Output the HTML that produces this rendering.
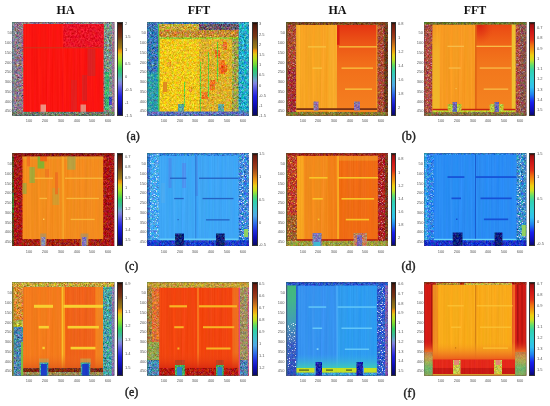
<!DOCTYPE html>
<html><head><meta charset="utf-8"><style>
html,body{margin:0;padding:0;background:#fff;}
body{width:550px;height:406px;position:relative;overflow:hidden;font-family:"Liberation Serif",serif;}
.t{position:absolute;font-weight:bold;font-size:12px;line-height:1;color:#111;white-space:nowrap;}
.l{position:absolute;font-size:12px;line-height:1;color:#222;white-space:nowrap;-webkit-text-stroke:0.4px #222;}
.p{position:absolute;filter:blur(0.3px);}
.cb{position:absolute;box-sizing:border-box;}
.tk{position:absolute;font-family:"Liberation Sans",sans-serif;font-size:8px;line-height:1;color:#5a5a5a;white-space:nowrap;transform:scale(0.5);}
.ty{transform-origin:100% 50%;}
.tx{transform-origin:50% 50%;width:20px;text-align:center;}
.tc{transform-origin:0 50%;}
</style></head><body>
<svg width="0" height="0" style="position:absolute">
<defs>
<filter id="spk" x="0" y="0" width="100%" height="100%" color-interpolation-filters="sRGB">
<feTurbulence type="fractalNoise" baseFrequency="0.85" numOctaves="1" seed="31" result="t"/>
<feColorMatrix in="t" type="matrix" values="0 0 0 0 1  0 0 0 0 1  0 0 0 0 1  0 7 0 0 -4.1" result="w"/>
<feComposite in="w" in2="SourceAlpha" operator="in"/>
</filter>
<filter id="spky" x="0" y="0" width="100%" height="100%" color-interpolation-filters="sRGB">
<feTurbulence type="fractalNoise" baseFrequency="0.85" numOctaves="1" seed="37" result="t"/>
<feColorMatrix in="t" type="matrix" values="0 0 0 0 1  0 0 0 0 0.8  0 0 0 0 0.35  0 7 0 0 -4.0" result="w"/>
<feComposite in="w" in2="SourceAlpha" operator="in"/>
</filter>
<filter id="nz4" x="0" y="0" width="100%" height="100%" color-interpolation-filters="sRGB">
<feTurbulence type="fractalNoise" baseFrequency="0.55" numOctaves="2" seed="17" result="t1"/>
<feColorMatrix in="t1" type="matrix" values="0.5 0.3 0.2 0 0  0.5 0.3 0.2 0 0  0.5 0.3 0.2 0 0  0 0 0 0 1" result="l"/>
<feTurbulence type="fractalNoise" baseFrequency="0.3" numOctaves="2" seed="24" result="t2"/>
<feColorMatrix in="t2" type="matrix" values="1 0 0 0 0  0 1 0 0 0  0 0 1 0 0  0 0 0 0 1" result="c0"/>
<feGaussianBlur in="c0" stdDeviation="0.4" result="c"/>
<feComponentTransfer in="SourceGraphic" result="op"><feFuncA type="linear" slope="0" intercept="1"/></feComponentTransfer>
<feComposite in="op" in2="l" operator="arithmetic" k1="0" k2="1" k3="0.5" k4="-0.25" result="s1"/>
<feComposite in="s1" in2="c" operator="arithmetic" k1="0" k2="1" k3="0.12" k4="-0.06" result="s2"/>
<feComposite in="s2" in2="SourceAlpha" operator="in"/>
</filter>
<filter id="nz" x="0" y="0" width="100%" height="100%" color-interpolation-filters="sRGB">
<feTurbulence type="fractalNoise" baseFrequency="0.9" numOctaves="2" seed="4" result="t1"/>
<feColorMatrix in="t1" type="matrix" values="0.5 0.3 0.2 0 0  0.5 0.3 0.2 0 0  0.5 0.3 0.2 0 0  0 0 0 0 1" result="l"/>
<feTurbulence type="fractalNoise" baseFrequency="0.4" numOctaves="2" seed="11" result="t2"/>
<feColorMatrix in="t2" type="matrix" values="1 0 0 0 0  0 1 0 0 0  0 0 1 0 0  0 0 0 0 1" result="c0"/>
<feGaussianBlur in="c0" stdDeviation="0.4" result="c"/>
<feComponentTransfer in="SourceGraphic" result="op"><feFuncA type="linear" slope="0" intercept="1"/></feComponentTransfer>
<feComposite in="op" in2="l" operator="arithmetic" k1="0" k2="1" k3="0.85" k4="-0.425" result="s1"/>
<feComposite in="s1" in2="c" operator="arithmetic" k1="0" k2="1" k3="0.6" k4="-0.3" result="s2"/>
<feComposite in="s2" in2="SourceAlpha" operator="in"/>
</filter>
<filter id="nz2" x="0" y="0" width="100%" height="100%" color-interpolation-filters="sRGB">
<feTurbulence type="fractalNoise" baseFrequency="0.9" numOctaves="2" seed="9" result="t1"/>
<feColorMatrix in="t1" type="matrix" values="0.5 0.3 0.2 0 0  0.5 0.3 0.2 0 0  0.5 0.3 0.2 0 0  0 0 0 0 1" result="l"/>
<feTurbulence type="fractalNoise" baseFrequency="0.4" numOctaves="2" seed="16" result="t2"/>
<feColorMatrix in="t2" type="matrix" values="1 0 0 0 0  0 1 0 0 0  0 0 1 0 0  0 0 0 0 1" result="c0"/>
<feGaussianBlur in="c0" stdDeviation="0.4" result="c"/>
<feComponentTransfer in="SourceGraphic" result="op"><feFuncA type="linear" slope="0" intercept="1"/></feComponentTransfer>
<feComposite in="op" in2="l" operator="arithmetic" k1="0" k2="1" k3="0.55" k4="-0.275" result="s1"/>
<feComposite in="s1" in2="c" operator="arithmetic" k1="0" k2="1" k3="0.45" k4="-0.225" result="s2"/>
<feComposite in="s2" in2="SourceAlpha" operator="in"/>
</filter>
<filter id="nz3" x="0" y="0" width="100%" height="100%" color-interpolation-filters="sRGB">
<feTurbulence type="fractalNoise" baseFrequency="0.7 0.012" numOctaves="2" seed="13" result="t1"/>
<feColorMatrix in="t1" type="matrix" values="0.5 0.3 0.2 0 0  0.5 0.3 0.2 0 0  0.5 0.3 0.2 0 0  0 0 0 0 1" result="l"/>
<feTurbulence type="fractalNoise" baseFrequency="0.4 0.012" numOctaves="2" seed="20" result="t2"/>
<feColorMatrix in="t2" type="matrix" values="1 0 0 0 0  0 1 0 0 0  0 0 1 0 0  0 0 0 0 1" result="c0"/>
<feGaussianBlur in="c0" stdDeviation="0.4" result="c"/>
<feComponentTransfer in="SourceGraphic" result="op"><feFuncA type="linear" slope="0" intercept="1"/></feComponentTransfer>
<feComposite in="op" in2="l" operator="arithmetic" k1="0" k2="1" k3="0.1" k4="-0.05" result="s1"/>
<feComposite in="s1" in2="c" operator="arithmetic" k1="0" k2="1" k3="0.06" k4="-0.03" result="s2"/>
<feComposite in="s2" in2="SourceAlpha" operator="in"/>
</filter>
<linearGradient id="gb1" x1="0" y1="0" x2="0" y2="1"><stop offset="0" stop-color="#e43412"/><stop offset="0.2" stop-color="#ec5416"/><stop offset="0.45" stop-color="#f26e1a"/><stop offset="1" stop-color="#f48020"/></linearGradient>
<linearGradient id="gb2" x1="0" y1="0" x2="0" y2="1"><stop offset="0" stop-color="#ea4814"/><stop offset="0.22" stop-color="#f06418"/><stop offset="0.45" stop-color="#f2761c"/><stop offset="1" stop-color="#f48420"/></linearGradient>
<linearGradient id="ge1" x1="0" y1="0" x2="0" y2="1"><stop offset="0" stop-color="#f07020" stop-opacity="0"/><stop offset="1" stop-color="#e05818" stop-opacity="0.8"/></linearGradient>
<linearGradient id="ge2" x1="0" y1="0" x2="0" y2="1"><stop offset="0" stop-color="#f04c12" stop-opacity="0"/><stop offset="1" stop-color="#d82a10" stop-opacity="0.9"/></linearGradient>
<linearGradient id="gfl" x1="0" y1="0" x2="0" y2="1"><stop offset="0" stop-color="#30d070"/><stop offset="0.2" stop-color="#30c890"/><stop offset="0.42" stop-color="#30a8c8"/><stop offset="0.6" stop-color="#3070d0"/><stop offset="0.85" stop-color="#2a48c0"/><stop offset="1" stop-color="#1a20a0"/></linearGradient>
<linearGradient id="gf1" x1="0" y1="0" x2="0" y2="1"><stop offset="0" stop-color="#3ab0e8" stop-opacity="0"/><stop offset="1" stop-color="#40d0b0" stop-opacity="0.9"/></linearGradient>
<linearGradient id="gfs" x1="0" y1="0" x2="0" y2="1"><stop offset="0" stop-color="#d41a16" stop-opacity="0"/><stop offset="0.3" stop-color="#e86020"/><stop offset="0.5" stop-color="#e8b030"/><stop offset="0.62" stop-color="#b0c840"/><stop offset="0.8" stop-color="#60d060"/><stop offset="1" stop-color="#90c040"/></linearGradient>
<linearGradient id="gys" x1="0" y1="0" x2="0" y2="1"><stop offset="0" stop-color="#f2b02a" stop-opacity="0"/><stop offset="0.3" stop-color="#f2b02a" stop-opacity="0.9"/><stop offset="1" stop-color="#f0b82a"/></linearGradient>
<radialGradient id="grp" cx="0.2" cy="0" r="0.9"><stop offset="0" stop-color="#d82010" stop-opacity="0.95"/><stop offset="0.5" stop-color="#e03414" stop-opacity="0.6"/><stop offset="1" stop-color="#e84a14" stop-opacity="0"/></radialGradient>
<linearGradient id="gf" x1="0" y1="0" x2="0" y2="1"><stop offset="0" stop-color="#f8a41c" stop-opacity="0"/><stop offset="0.6" stop-color="#f08020" stop-opacity="0.8"/><stop offset="1" stop-color="#ea5a1c"/></linearGradient>
</defs></svg>

<div class="t" style="left:56.6px;top:3.5px">HA</div>
<div class="t" style="left:187.7px;top:3.5px">FFT</div>
<div class="t" style="left:328.5px;top:3.5px">HA</div>
<div class="t" style="left:463.7px;top:3.5px">FFT</div>
<div class="l" style="left:126.5px;top:130px">(a)</div>
<div class="l" style="left:401.8px;top:130.2px">(b)</div>
<div class="l" style="left:125px;top:260px">(c)</div>
<div class="l" style="left:401.6px;top:260px">(d)</div>
<div class="l" style="left:125px;top:386px">(e)</div>
<div class="l" style="left:403.5px;top:386.5px">(f)</div>
<svg class="p" style="left:12.4px;top:22px" width="102.3" height="93.8" viewBox="0 0 102.3 93.8"><rect x="0" y="0" width="102.3" height="93.8" fill="#8c7888" filter="url(#nz)"/><rect x="0" y="0" width="2.5" height="93.8" fill="#7c8898" filter="url(#nz2)"/><rect x="91.5" y="0" width="8.5" height="93.8" fill="#78948a" filter="url(#nz)"/><rect x="100" y="0" width="2.3" height="93.8" fill="#a07898" filter="url(#nz2)"/><rect x="93" y="50" width="4" height="38" fill="#40b070" filter="url(#nz2)"/><rect x="97" y="75" width="3" height="8" fill="#4050c0" filter="url(#nz2)"/><rect x="11.3" y="2" width="80.2" height="88" fill="#fb1410" filter="url(#nz3)"/><rect x="51.3" y="2" width="40.2" height="24" fill="#e81426" filter="url(#nz4)"/><rect x="11.3" y="25.4" width="80.2" height="0.8" fill="#c04020" /><rect x="75.5" y="27" width="8" height="27" fill="#dc2020" filter="url(#nz3)"/><rect x="70" y="53" width="5" height="26" fill="#de2020" filter="url(#nz3)"/><rect x="59" y="58" width="6" height="30" fill="#e61e1e" filter="url(#nz3)"/><rect x="28.5" y="82.5" width="5.5" height="7.5" fill="#f09080" filter="url(#nz3)"/><rect x="68.5" y="82.5" width="5.5" height="7.5" fill="#e88878" filter="url(#nz3)"/><rect x="0" y="89.8" width="102.3" height="4" fill="#6e7c6a" filter="url(#nz)"/><rect x="0.25" y="0.25" width="101.8" height="93.3" fill="none" stroke="#444" stroke-width="0.5" opacity="0.6"/></svg>
<div class="cb" style="left:117.4px;top:22px;width:5.7px;height:93.8px;background:linear-gradient(to bottom,#1a0a04 0%,#4a1a0c 2%,#6a2412 8%,#7a3812 15%,#806018 20%,#a07c14 27%,#f09010 30%,#e0c818 34%,#b0e020 39%,#70d838 45%,#30d060 50%,#40b8a0 57%,#70a0d0 62%,#8080e0 66%,#5050e0 72%,#2020e0 80%,#1010c0 88%,#0a0a90 94%,#0a0a60 100%);border:0.5px solid #333"></div>
<div class="tk ty" style="right:538.6px;top:29.27px">50</div>
<div class="tk ty" style="right:538.6px;top:39.04px">100</div>
<div class="tk ty" style="right:538.6px;top:48.81px">150</div>
<div class="tk ty" style="right:538.6px;top:58.58px">200</div>
<div class="tk ty" style="right:538.6px;top:68.35px">250</div>
<div class="tk ty" style="right:538.6px;top:78.12px">300</div>
<div class="tk ty" style="right:538.6px;top:87.9px">350</div>
<div class="tk ty" style="right:538.6px;top:97.67px">400</div>
<div class="tk ty" style="right:538.6px;top:107.44px">450</div>
<div class="tk tx" style="left:19.4px;top:117.4px">100</div>
<div class="tk tx" style="left:35.1px;top:117.4px">200</div>
<div class="tk tx" style="left:50.8px;top:117.4px">300</div>
<div class="tk tx" style="left:66.5px;top:117.4px">400</div>
<div class="tk tx" style="left:82.2px;top:117.4px">500</div>
<div class="tk tx" style="left:97.9px;top:117.4px">600</div>
<div class="tk tc" style="left:124.6px;top:19.9px">2</div>
<div class="tk tc" style="left:124.6px;top:33.1px">1.5</div>
<div class="tk tc" style="left:124.6px;top:46.3px">1</div>
<div class="tk tc" style="left:124.6px;top:59.5px">0.5</div>
<div class="tk tc" style="left:124.6px;top:72.7px">0</div>
<div class="tk tc" style="left:124.6px;top:85.9px">-0.5</div>
<div class="tk tc" style="left:124.6px;top:99.1px">-1</div>
<div class="tk tc" style="left:124.6px;top:112.3px">-1.5</div>
<svg class="p" style="left:147px;top:22px" width="102.3" height="93.8" viewBox="0 0 102.3 93.8"><rect x="0" y="0" width="102.3" height="93.8" fill="#3a78b4" filter="url(#nz)"/><rect x="0" y="50" width="12" height="40" fill="#309aa8" filter="url(#nz2)"/><rect x="91.5" y="0" width="10.8" height="93.8" fill="#28aac6" filter="url(#nz)"/><rect x="85" y="2" width="6.5" height="88" fill="#a0a048" filter="url(#nz)"/><rect x="11.3" y="2" width="1.3" height="88" fill="#40d840" /><rect x="12.4" y="2" width="72.6" height="88" fill="#eec81c" filter="url(#nz2)"/><rect x="52" y="17" width="33" height="73" fill="#dcb02a" filter="url(#nz2)"/><rect x="16" y="60" width="4" height="10" fill="#e08820" filter="url(#nz3)"/><rect x="12.4" y="2" width="40" height="6" fill="#c8a838" filter="url(#nz)"/><rect x="52" y="2" width="39.5" height="6" fill="#6a5868" filter="url(#nz)"/><rect x="12.4" y="8" width="79" height="7.5" fill="#c48a34" filter="url(#nz)"/><rect x="12.4" y="15.5" width="79" height="1.3" fill="#60cc40" filter="url(#nz)" opacity="0.8"/><rect x="55" y="70" width="6" height="7" fill="#f07020" filter="url(#nz2)" opacity="0.75"/><rect x="63" y="58" width="5" height="10" fill="#f06020" filter="url(#nz2)" opacity="0.75"/><rect x="72" y="38" width="6" height="14" fill="#f06818" filter="url(#nz2)" opacity="0.75"/><rect x="74" y="43" width="6" height="7" fill="#f05018" filter="url(#nz2)" opacity="0.75"/><rect x="42" y="64" width="3" height="6" fill="#f09020" filter="url(#nz2)" opacity="0.75"/><rect x="76" y="20" width="4" height="8" fill="#f05828" filter="url(#nz2)" opacity="0.75"/><rect x="68" y="28" width="5" height="8" fill="#e86020" filter="url(#nz2)" opacity="0.75"/><rect x="20" y="40" width="4" height="5" fill="#e89828" filter="url(#nz2)" opacity="0.75"/><rect x="53" y="40" width="0.9" height="50" fill="#58d040" filter="url(#nz2)"/><rect x="61" y="30" width="0.9" height="45" fill="#58d040" filter="url(#nz2)"/><rect x="70" y="20" width="0.9" height="40" fill="#58d040" filter="url(#nz2)"/><rect x="37" y="60" width="0.9" height="25" fill="#58d040" filter="url(#nz2)"/><rect x="31" y="82" width="6" height="8" fill="#60a898" filter="url(#nz2)"/><rect x="71" y="82" width="6" height="8" fill="#60a898" filter="url(#nz2)"/><rect x="0" y="89.5" width="102.3" height="4.3" fill="#5a70b8" filter="url(#nz)"/><rect x="0.25" y="0.25" width="101.8" height="93.3" fill="none" stroke="#444" stroke-width="0.5" opacity="0.6"/></svg>
<div class="cb" style="left:252px;top:22px;width:5.7px;height:93.8px;background:linear-gradient(to bottom,#1a0a04 0%,#4a1a0c 2%,#6a2412 8%,#7a3812 15%,#806018 20%,#a07c14 27%,#f09010 30%,#e0c818 34%,#b0e020 39%,#70d838 45%,#30d060 50%,#40b8a0 57%,#70a0d0 62%,#8080e0 66%,#5050e0 72%,#2020e0 80%,#1010c0 88%,#0a0a90 94%,#0a0a60 100%);border:0.5px solid #333"></div>
<div class="tk ty" style="right:404px;top:29.27px">50</div>
<div class="tk ty" style="right:404px;top:39.04px">100</div>
<div class="tk ty" style="right:404px;top:48.81px">150</div>
<div class="tk ty" style="right:404px;top:58.58px">200</div>
<div class="tk ty" style="right:404px;top:68.35px">250</div>
<div class="tk ty" style="right:404px;top:78.12px">300</div>
<div class="tk ty" style="right:404px;top:87.9px">350</div>
<div class="tk ty" style="right:404px;top:97.67px">400</div>
<div class="tk ty" style="right:404px;top:107.44px">450</div>
<div class="tk tx" style="left:154px;top:117.4px">100</div>
<div class="tk tx" style="left:169.7px;top:117.4px">200</div>
<div class="tk tx" style="left:185.4px;top:117.4px">300</div>
<div class="tk tx" style="left:201.1px;top:117.4px">400</div>
<div class="tk tx" style="left:216.8px;top:117.4px">500</div>
<div class="tk tx" style="left:232.5px;top:117.4px">600</div>
<div class="tk tc" style="left:259.2px;top:20.3px">3</div>
<div class="tk tc" style="left:259.2px;top:30.5px">2.5</div>
<div class="tk tc" style="left:259.2px;top:40.7px">2</div>
<div class="tk tc" style="left:259.2px;top:50.9px">1.5</div>
<div class="tk tc" style="left:259.2px;top:61.1px">1</div>
<div class="tk tc" style="left:259.2px;top:71.3px">0.5</div>
<div class="tk tc" style="left:259.2px;top:81.5px">0</div>
<div class="tk tc" style="left:259.2px;top:91.7px">-0.5</div>
<div class="tk tc" style="left:259.2px;top:101.9px">-1</div>
<div class="tk tc" style="left:259.2px;top:112.1px">-1.5</div>
<svg class="p" style="left:285.5px;top:22px" width="102.3" height="93.8" viewBox="0 0 102.3 93.8"><rect x="0" y="0" width="102.3" height="93.8" fill="#a84830" filter="url(#nz2)"/><rect x="0" y="45" width="10.3" height="45" fill="#a03030" filter="url(#nz2)"/><rect x="0" y="0" width="1.5" height="93.8" fill="#6a5a28" /><rect x="98.3" y="0" width="4" height="93.8" fill="#6a3a1c" filter="url(#nz2)"/><rect x="1.5" y="0" width="8.8" height="93.8" fill="#fff" filter="url(#spk)" opacity="0.3"/><rect x="91" y="0" width="7.3" height="93.8" fill="#fff" filter="url(#spk)" opacity="0.3"/><rect x="10.3" y="2.8" width="80.7" height="87" fill="#f7a323" filter="url(#nz3)"/><rect x="10.3" y="2.8" width="4" height="87" fill="#f8b02c" filter="url(#nz3)"/><rect x="42.5" y="2.8" width="8.5" height="87" fill="#f8aa2a" filter="url(#nz3)"/><rect x="51" y="2.8" width="40" height="87" fill="url(#gb1)" /><rect x="51" y="2.8" width="2.5" height="20" fill="#d82010" filter="url(#nz3)"/><rect x="90.5" y="2.8" width="0.8" height="87" fill="#f0b030" /><rect x="0" y="0" width="102.3" height="2.8" fill="#7a4a20" filter="url(#nz2)"/><rect x="22" y="24.2" width="18" height="1.3" fill="#f8c440" /><rect x="53" y="24.2" width="38" height="1.3" fill="#f8c440" /><rect x="26.5" y="45.5" width="9.5" height="1.3" fill="#f8c440" /><rect x="55.5" y="45.5" width="31.5" height="1.3" fill="#f8c440" /><rect x="59" y="66.5" width="27" height="1.3" fill="#f8c440" /><rect x="10.3" y="86.2" width="80.7" height="1.8" fill="#7a3214" /><rect x="27.5" y="79.5" width="5" height="9" fill="#8a70a8" filter="url(#nz2)"/><rect x="68" y="79.5" width="6" height="9" fill="#8a70a8" filter="url(#nz2)"/><rect x="0" y="90" width="102.3" height="3.8" fill="#84782e" filter="url(#nz2)"/><rect x="0.25" y="0.25" width="101.8" height="93.3" fill="none" stroke="#444" stroke-width="0.5" opacity="0.6"/></svg>
<div class="cb" style="left:390.5px;top:22px;width:5.7px;height:93.8px;background:linear-gradient(to bottom,#201008 0%,#6a1c10 2%,#8a2814 9%,#a04018 16%,#c06818 22%,#e08c14 27%,#f0a810 31%,#e8d018 35%,#c0e020 40%,#60dc60 46%,#30d0a8 52%,#40c0d0 60%,#50a8e8 68%,#3070e8 76%,#2030e0 84%,#1010b8 92%,#0a0a68 100%);border:0.5px solid #333"></div>
<div class="tk ty" style="right:265.5px;top:29.27px">50</div>
<div class="tk ty" style="right:265.5px;top:39.04px">100</div>
<div class="tk ty" style="right:265.5px;top:48.81px">150</div>
<div class="tk ty" style="right:265.5px;top:58.58px">200</div>
<div class="tk ty" style="right:265.5px;top:68.35px">250</div>
<div class="tk ty" style="right:265.5px;top:78.12px">300</div>
<div class="tk ty" style="right:265.5px;top:87.9px">350</div>
<div class="tk ty" style="right:265.5px;top:97.67px">400</div>
<div class="tk ty" style="right:265.5px;top:107.44px">450</div>
<div class="tk tx" style="left:292.5px;top:117.4px">100</div>
<div class="tk tx" style="left:308.2px;top:117.4px">200</div>
<div class="tk tx" style="left:323.9px;top:117.4px">300</div>
<div class="tk tx" style="left:339.6px;top:117.4px">400</div>
<div class="tk tx" style="left:355.3px;top:117.4px">500</div>
<div class="tk tx" style="left:371px;top:117.4px">600</div>
<div class="tk tc" style="left:397.7px;top:20.3px">0.8</div>
<div class="tk tc" style="left:397.7px;top:34.2px">1</div>
<div class="tk tc" style="left:397.7px;top:48.1px">1.2</div>
<div class="tk tc" style="left:397.7px;top:62px">1.4</div>
<div class="tk tc" style="left:397.7px;top:75.9px">1.6</div>
<div class="tk tc" style="left:397.7px;top:89.8px">1.8</div>
<div class="tk tc" style="left:397.7px;top:103.7px">2</div>
<svg class="p" style="left:424.3px;top:22px" width="102.3" height="93.8" viewBox="0 0 102.3 93.8"><rect x="0" y="0" width="102.3" height="93.8" fill="#a84a40" filter="url(#nz2)"/><rect x="96" y="0" width="6.3" height="93.8" fill="#8a5048" filter="url(#nz2)"/><rect x="0" y="0" width="8.5" height="93.8" fill="#fff" filter="url(#spk)" opacity="0.35"/><rect x="91.2" y="0" width="11.1" height="93.8" fill="#fff" filter="url(#spk)" opacity="0.35"/><rect x="8.5" y="2.5" width="82.7" height="87" fill="#f79a22" filter="url(#nz3)"/><rect x="8.5" y="2.5" width="7.2" height="87" fill="url(#gys)" /><rect x="51.1" y="2.5" width="36.7" height="87" fill="url(#gb2)" /><rect x="51.1" y="2.5" width="1.6" height="87" fill="#e06414" /><rect x="52.7" y="2.5" width="16" height="22" fill="url(#grp)" /><rect x="87.8" y="2.5" width="3.8" height="87" fill="#eec030" filter="url(#nz3)"/><rect x="0" y="0" width="102.3" height="2.5" fill="#6a7a2a" filter="url(#nz2)"/><rect x="23.5" y="23.7" width="16.5" height="1.3" fill="#f8bc48" /><rect x="52.4" y="23.7" width="35.4" height="1.3" fill="#f8bc48" /><rect x="24.7" y="45.4" width="12" height="1.3" fill="#f8bc48" /><rect x="55.7" y="45.4" width="31.3" height="1.3" fill="#f8bc48" /><rect x="59.7" y="66.5" width="24.5" height="1.3" fill="#f8bc48" /><rect x="31.5" y="66" width="1.2" height="1.2" fill="#f8c050" /><rect x="8.5" y="86.8" width="83" height="1.7" fill="#c42410" /><rect x="8.5" y="88.5" width="83" height="2" fill="#b8d030" filter="url(#nz2)"/><rect x="23.7" y="82" width="13.8" height="7" fill="#b8c838" filter="url(#nz2)"/><rect x="65.7" y="82" width="13.8" height="7" fill="#b8c838" filter="url(#nz2)"/><rect x="28.5" y="80" width="4.5" height="10" fill="#6c68b0" filter="url(#nz2)"/><rect x="70.5" y="80" width="4.5" height="10" fill="#6c68b0" filter="url(#nz2)"/><rect x="0" y="90.5" width="102.3" height="3.3" fill="#807040" filter="url(#nz2)"/><rect x="0.25" y="0.25" width="101.8" height="93.3" fill="none" stroke="#444" stroke-width="0.5" opacity="0.6"/></svg>
<div class="cb" style="left:529.3px;top:22px;width:5.7px;height:93.8px;background:linear-gradient(to bottom,#2a1008 0%,#a01010 2%,#d01818 10%,#e03018 18%,#f07010 24%,#f0a010 30%,#f0d010 35%,#d0e020 40%,#60e070 46%,#30d0b0 52%,#30d0d0 60%,#30c0f0 70%,#2080f0 78%,#1820f0 86%,#1010c0 94%,#0a0a70 100%);border:0.5px solid #333"></div>
<div class="tk ty" style="right:126.7px;top:29.27px">50</div>
<div class="tk ty" style="right:126.7px;top:39.04px">100</div>
<div class="tk ty" style="right:126.7px;top:48.81px">150</div>
<div class="tk ty" style="right:126.7px;top:58.58px">200</div>
<div class="tk ty" style="right:126.7px;top:68.35px">250</div>
<div class="tk ty" style="right:126.7px;top:78.12px">300</div>
<div class="tk ty" style="right:126.7px;top:87.9px">350</div>
<div class="tk ty" style="right:126.7px;top:97.67px">400</div>
<div class="tk ty" style="right:126.7px;top:107.44px">450</div>
<div class="tk tx" style="left:431.3px;top:117.4px">100</div>
<div class="tk tx" style="left:447px;top:117.4px">200</div>
<div class="tk tx" style="left:462.7px;top:117.4px">300</div>
<div class="tk tx" style="left:478.4px;top:117.4px">400</div>
<div class="tk tx" style="left:494.1px;top:117.4px">500</div>
<div class="tk tx" style="left:509.8px;top:117.4px">600</div>
<div class="tk tc" style="left:536.5px;top:24.1px">0.7</div>
<div class="tk tc" style="left:536.5px;top:34.35px">0.8</div>
<div class="tk tc" style="left:536.5px;top:44.6px">0.9</div>
<div class="tk tc" style="left:536.5px;top:54.85px">1</div>
<div class="tk tc" style="left:536.5px;top:65.1px">1.1</div>
<div class="tk tc" style="left:536.5px;top:75.35px">1.2</div>
<div class="tk tc" style="left:536.5px;top:85.6px">1.3</div>
<div class="tk tc" style="left:536.5px;top:95.85px">1.4</div>
<div class="tk tc" style="left:536.5px;top:106.1px">1.5</div>
<svg class="p" style="left:12.4px;top:152.7px" width="102.3" height="93.8" viewBox="0 0 102.3 93.8"><rect x="0" y="0" width="102.3" height="93.8" fill="#a81818" filter="url(#nz2)"/><rect x="0" y="0" width="2" height="93.8" fill="#5a4a18" filter="url(#nz2)"/><rect x="0" y="40" width="2" height="20" fill="#3a7a28" filter="url(#nz2)"/><rect x="10.5" y="3.3" width="80.7" height="83" fill="#f38c1e" filter="url(#nz3)"/><rect x="10.5" y="3.3" width="80.7" height="3" fill="#e8982a" filter="url(#nz3)"/><rect x="49.5" y="3.3" width="2.4" height="83" fill="#f4961f" filter="url(#nz3)"/><rect x="50.6" y="3.3" width="1" height="83" fill="#f8b030" /><rect x="25.6" y="0.5" width="6.7" height="15" fill="#88b030" filter="url(#nz3)"/><rect x="17.4" y="14" width="5.4" height="16" fill="#a8a838" filter="url(#nz3)"/><rect x="10.6" y="30" width="4" height="11" fill="#b0a038" filter="url(#nz3)"/><rect x="40.4" y="35" width="6.8" height="17" fill="#d49a30" filter="url(#nz3)"/><rect x="55.3" y="3" width="8.2" height="13.7" fill="#b8a040" filter="url(#nz3)"/><rect x="28.2" y="0.3" width="6.8" height="8" fill="#f06818" filter="url(#nz3)"/><rect x="43.1" y="19.3" width="2.8" height="22" fill="#f07020" filter="url(#nz3)"/><rect x="15" y="3.3" width="3" height="10" fill="#f07020" filter="url(#nz3)"/><rect x="33" y="16" width="4" height="10" fill="#f07a20" filter="url(#nz3)"/><rect x="22.6" y="24.6" width="18.4" height="1.3" fill="#f8b83a" /><rect x="53" y="24.6" width="37.7" height="1.3" fill="#f8b83a" /><rect x="27.4" y="44.8" width="7.6" height="1.3" fill="#f8b83a" /><rect x="54.4" y="44.8" width="32.6" height="1.3" fill="#f8b83a" /><rect x="58.6" y="65.8" width="24" height="1.3" fill="#f8b83a" /><rect x="31" y="65.6" width="1.4" height="1.4" fill="#f8d060" /><rect x="10.5" y="86.3" width="80.7" height="7.5" fill="#a02414" filter="url(#nz2)"/><rect x="28.3" y="80.5" width="6" height="12" fill="#c09050" filter="url(#nz3)"/><rect x="29.3" y="84" width="4" height="9" fill="#8a8ab8" filter="url(#nz2)"/><rect x="68.7" y="80.5" width="7.6" height="12" fill="#c09050" filter="url(#nz3)"/><rect x="70" y="84" width="4.5" height="9" fill="#8078c0" filter="url(#nz2)"/><rect x="0" y="0" width="102.3" height="3.3" fill="#8e1a14" filter="url(#nz2)"/><rect x="0.25" y="0.25" width="101.8" height="93.3" fill="none" stroke="#444" stroke-width="0.5" opacity="0.6"/></svg>
<div class="cb" style="left:117.4px;top:152.7px;width:5.7px;height:93.8px;background:linear-gradient(to bottom,#1a0a04 0%,#4a1a0c 2%,#6a2412 8%,#7a3812 15%,#806018 20%,#a07c14 27%,#f09010 30%,#e0c818 34%,#b0e020 39%,#70d838 45%,#30d060 50%,#40b8a0 57%,#70a0d0 62%,#8080e0 66%,#5050e0 72%,#2020e0 80%,#1010c0 88%,#0a0a90 94%,#0a0a60 100%);border:0.5px solid #333"></div>
<div class="tk ty" style="right:538.6px;top:159.97px">50</div>
<div class="tk ty" style="right:538.6px;top:169.74px">100</div>
<div class="tk ty" style="right:538.6px;top:179.51px">150</div>
<div class="tk ty" style="right:538.6px;top:189.28px">200</div>
<div class="tk ty" style="right:538.6px;top:199.05px">250</div>
<div class="tk ty" style="right:538.6px;top:208.82px">300</div>
<div class="tk ty" style="right:538.6px;top:218.6px">350</div>
<div class="tk ty" style="right:538.6px;top:228.37px">400</div>
<div class="tk ty" style="right:538.6px;top:238.14px">450</div>
<div class="tk tx" style="left:19.4px;top:248.1px">100</div>
<div class="tk tx" style="left:35.1px;top:248.1px">200</div>
<div class="tk tx" style="left:50.8px;top:248.1px">300</div>
<div class="tk tx" style="left:66.5px;top:248.1px">400</div>
<div class="tk tx" style="left:82.2px;top:248.1px">500</div>
<div class="tk tx" style="left:97.9px;top:248.1px">600</div>
<div class="tk tc" style="left:124.6px;top:152.8px">0.7</div>
<div class="tk tc" style="left:124.6px;top:163.2px">0.8</div>
<div class="tk tc" style="left:124.6px;top:173.6px">0.9</div>
<div class="tk tc" style="left:124.6px;top:184px">1</div>
<div class="tk tc" style="left:124.6px;top:194.4px">1.1</div>
<div class="tk tc" style="left:124.6px;top:204.8px">1.2</div>
<div class="tk tc" style="left:124.6px;top:215.2px">1.3</div>
<div class="tk tc" style="left:124.6px;top:225.6px">1.4</div>
<div class="tk tc" style="left:124.6px;top:236px">1.5</div>
<svg class="p" style="left:147px;top:152.7px" width="102.3" height="93.8" viewBox="0 0 102.3 93.8"><rect x="0" y="0" width="102.3" height="93.8" fill="#42a4ec" filter="url(#nz2)"/><rect x="0" y="0" width="3" height="93.8" fill="#3478cc" filter="url(#nz2)"/><rect x="91.4" y="0" width="10.9" height="93.8" fill="#3a84d8" filter="url(#nz)"/><rect x="3" y="0" width="9.3" height="87" fill="#fff" filter="url(#spk)" opacity="0.7"/><rect x="91.4" y="0" width="10.9" height="87" fill="#fff" filter="url(#spk)" opacity="0.8"/><rect x="12.3" y="2.8" width="79.1" height="84" fill="#3ea6f6" filter="url(#nz3)"/><rect x="21.5" y="5" width="3" height="30" fill="#4a90ee" filter="url(#nz3)"/><rect x="35" y="10" width="4" height="25" fill="#4a92ee" filter="url(#nz3)"/><rect x="48" y="3" width="3" height="40" fill="#4290ea" filter="url(#nz3)"/><rect x="14" y="30" width="4" height="20" fill="#48a8f0" filter="url(#nz3)"/><rect x="12.3" y="0" width="79.1" height="2.8" fill="#3488dc" filter="url(#nz2)"/><rect x="48.4" y="2.8" width="0.8" height="84" fill="#2a78d4" /><rect x="23" y="24.6" width="16.4" height="1.3" fill="#2462c4" /><rect x="52" y="24.6" width="39.4" height="1.3" fill="#2462c4" /><rect x="27.2" y="44.9" width="9.5" height="1.3" fill="#2462c4" /><rect x="55.5" y="44.9" width="31" height="1.3" fill="#2462c4" /><rect x="59" y="66.2" width="23.6" height="1.3" fill="#2462c4" /><rect x="30.5" y="66" width="1.2" height="1.2" fill="#2462c4" /><rect x="0" y="87.2" width="102.3" height="6.6" fill="#1c3ec8" filter="url(#nz2)"/><rect x="12.3" y="85.5" width="79.1" height="1.7" fill="#64ccf8" /><rect x="28" y="80.5" width="9" height="13.3" fill="#102476" filter="url(#nz2)"/><rect x="69" y="80.5" width="8.7" height="13.3" fill="#102476" filter="url(#nz2)"/><rect x="97" y="76" width="4" height="8" fill="#90d060" filter="url(#nz3)"/><rect x="0.25" y="0.25" width="101.8" height="93.3" fill="none" stroke="#444" stroke-width="0.5" opacity="0.6"/></svg>
<div class="cb" style="left:252px;top:152.7px;width:5.7px;height:93.8px;background:linear-gradient(to bottom,#201008 0%,#6a1c10 2%,#8a2814 9%,#a04018 16%,#c06818 22%,#e08c14 27%,#f0a810 31%,#e8d018 35%,#c0e020 40%,#60dc60 46%,#30d0a8 52%,#40c0d0 60%,#50a8e8 68%,#3070e8 76%,#2030e0 84%,#1010b8 92%,#0a0a68 100%);border:0.5px solid #333"></div>
<div class="tk ty" style="right:404px;top:159.97px">50</div>
<div class="tk ty" style="right:404px;top:169.74px">100</div>
<div class="tk ty" style="right:404px;top:179.51px">150</div>
<div class="tk ty" style="right:404px;top:189.28px">200</div>
<div class="tk ty" style="right:404px;top:199.05px">250</div>
<div class="tk ty" style="right:404px;top:208.82px">300</div>
<div class="tk ty" style="right:404px;top:218.6px">350</div>
<div class="tk ty" style="right:404px;top:228.37px">400</div>
<div class="tk ty" style="right:404px;top:238.14px">450</div>
<div class="tk tx" style="left:154px;top:248.1px">100</div>
<div class="tk tx" style="left:169.7px;top:248.1px">200</div>
<div class="tk tx" style="left:185.4px;top:248.1px">300</div>
<div class="tk tx" style="left:201.1px;top:248.1px">400</div>
<div class="tk tx" style="left:216.8px;top:248.1px">500</div>
<div class="tk tx" style="left:232.5px;top:248.1px">600</div>
<div class="tk tc" style="left:259.2px;top:150.3px">1.5</div>
<div class="tk tc" style="left:259.2px;top:173.05px">1</div>
<div class="tk tc" style="left:259.2px;top:195.8px">0.5</div>
<div class="tk tc" style="left:259.2px;top:218.55px">0</div>
<div class="tk tc" style="left:259.2px;top:241.3px">-0.5</div>
<svg class="p" style="left:285.5px;top:152.7px" width="102.3" height="93.8" viewBox="0 0 102.3 93.8"><rect x="0" y="0" width="102.3" height="93.8" fill="#b83a28" filter="url(#nz2)"/><rect x="0" y="0" width="1.4" height="93.8" fill="#5a6a28" /><rect x="99" y="0" width="3.3" height="93.8" fill="#7a3a1c" filter="url(#nz2)"/><rect x="91.5" y="0" width="7.5" height="93.8" fill="#a82020" filter="url(#nz2)"/><rect x="1.4" y="62" width="9.6" height="26" fill="#9a5a2c" filter="url(#nz2)"/><rect x="1.4" y="0" width="9.6" height="93.8" fill="#fff" filter="url(#spky)" opacity="0.7"/><rect x="91.5" y="0" width="7.5" height="93.8" fill="#fff" filter="url(#spk)" opacity="0.5"/><rect x="11" y="2.7" width="80.5" height="84" fill="#f28a1c" filter="url(#nz3)"/><rect x="11" y="2.7" width="6.8" height="84" fill="#f7a420" filter="url(#nz3)"/><rect x="42" y="2.7" width="9.5" height="84" fill="#f28018" filter="url(#nz3)"/><rect x="52.8" y="2.7" width="38.7" height="84" fill="#f06c14" filter="url(#nz3)"/><rect x="52.8" y="2.7" width="38.7" height="5" fill="#f08820" filter="url(#nz3)"/><rect x="51.3" y="2.7" width="1.5" height="84" fill="#f8b424" /><rect x="0" y="0" width="102.3" height="2.7" fill="#a02a1c" filter="url(#nz2)"/><rect x="23.2" y="24" width="18.3" height="1.6" fill="#f8c628" /><rect x="52.2" y="24" width="40" height="1.6" fill="#f8c628" /><rect x="26.5" y="45" width="10.3" height="1.6" fill="#f8c628" /><rect x="55.5" y="45" width="32.6" height="1.6" fill="#f8c628" /><rect x="59.8" y="65.8" width="23.3" height="1.6" fill="#f8c628" /><rect x="31.8" y="65.6" width="1.6" height="1.6" fill="#f8c628" /><rect x="11" y="86.2" width="80.5" height="1.6" fill="#b42010" /><rect x="0" y="87.8" width="102.3" height="6" fill="#9a9a3c" filter="url(#nz2)"/><rect x="26.5" y="80" width="9" height="13.8" fill="#7a78b8" filter="url(#nz2)"/><rect x="27.5" y="89" width="7" height="4.8" fill="#40b8d0" filter="url(#nz3)"/><rect x="67.5" y="80" width="13.5" height="13.8" fill="#c08060" filter="url(#nz2)"/><rect x="71" y="82" width="5" height="11.8" fill="#7a68b0" filter="url(#nz2)"/><rect x="0.25" y="0.25" width="101.8" height="93.3" fill="none" stroke="#444" stroke-width="0.5" opacity="0.6"/></svg>
<div class="cb" style="left:390.5px;top:152.7px;width:5.7px;height:93.8px;background:linear-gradient(to bottom,#2a1008 0%,#a01010 2%,#d01818 10%,#e03018 18%,#f07010 24%,#f0a010 30%,#f0d010 35%,#d0e020 40%,#60e070 46%,#30d0b0 52%,#30d0d0 60%,#30c0f0 70%,#2080f0 78%,#1820f0 86%,#1010c0 94%,#0a0a70 100%);border:0.5px solid #333"></div>
<div class="tk ty" style="right:265.5px;top:159.97px">50</div>
<div class="tk ty" style="right:265.5px;top:169.74px">100</div>
<div class="tk ty" style="right:265.5px;top:179.51px">150</div>
<div class="tk ty" style="right:265.5px;top:189.28px">200</div>
<div class="tk ty" style="right:265.5px;top:199.05px">250</div>
<div class="tk ty" style="right:265.5px;top:208.82px">300</div>
<div class="tk ty" style="right:265.5px;top:218.6px">350</div>
<div class="tk ty" style="right:265.5px;top:228.37px">400</div>
<div class="tk ty" style="right:265.5px;top:238.14px">450</div>
<div class="tk tx" style="left:292.5px;top:248.1px">100</div>
<div class="tk tx" style="left:308.2px;top:248.1px">200</div>
<div class="tk tx" style="left:323.9px;top:248.1px">300</div>
<div class="tk tx" style="left:339.6px;top:248.1px">400</div>
<div class="tk tx" style="left:355.3px;top:248.1px">500</div>
<div class="tk tx" style="left:371px;top:248.1px">600</div>
<div class="tk tc" style="left:397.7px;top:155.4px">0.8</div>
<div class="tk tc" style="left:397.7px;top:168.55px">1</div>
<div class="tk tc" style="left:397.7px;top:181.7px">1.2</div>
<div class="tk tc" style="left:397.7px;top:194.85px">1.4</div>
<div class="tk tc" style="left:397.7px;top:208px">1.6</div>
<div class="tk tc" style="left:397.7px;top:221.15px">1.8</div>
<div class="tk tc" style="left:397.7px;top:234.3px">2</div>
<svg class="p" style="left:424.3px;top:152.7px" width="102.3" height="93.8" viewBox="0 0 102.3 93.8"><rect x="0" y="0" width="102.3" height="93.8" fill="#2c84e6" filter="url(#nz2)"/><rect x="0" y="0" width="3" height="93.8" fill="#34a4e8" filter="url(#nz2)"/><rect x="92.4" y="0" width="9.9" height="93.8" fill="#3688c8" filter="url(#nz)"/><rect x="0" y="0" width="9.9" height="87" fill="#fff" filter="url(#spk)" opacity="0.4"/><rect x="92.4" y="0" width="9.9" height="93.8" fill="#fff" filter="url(#spk)" opacity="0.8"/><rect x="9.9" y="2" width="82.5" height="84" fill="#2a8cf4" filter="url(#nz3)"/><rect x="51" y="2" width="1" height="84" fill="#1a5cd0" /><rect x="23.5" y="23.2" width="16.9" height="1.7" fill="#1650d6" /><rect x="51.7" y="23.2" width="40.7" height="1.7" fill="#1650d6" /><rect x="27.5" y="44.5" width="9.5" height="1.7" fill="#1650d6" /><rect x="56.5" y="44.5" width="31.2" height="1.7" fill="#1650d6" /><rect x="59.9" y="65.5" width="24.3" height="1.7" fill="#1650d6" /><rect x="32" y="65.5" width="1.5" height="1.5" fill="#1650d6" /><rect x="0" y="87.2" width="102.3" height="6.6" fill="#1a34c6" filter="url(#nz2)"/><rect x="9.9" y="85.8" width="82.5" height="1.4" fill="#66d4f8" /><rect x="28.7" y="79.5" width="9.8" height="14.3" fill="#0e1e7a" filter="url(#nz2)"/><rect x="70.6" y="79.5" width="7.8" height="14.3" fill="#0e1e7a" filter="url(#nz2)"/><rect x="97.7" y="72" width="4.6" height="11" fill="#90d060" filter="url(#nz3)"/><rect x="0.25" y="0.25" width="101.8" height="93.3" fill="none" stroke="#444" stroke-width="0.5" opacity="0.6"/></svg>
<div class="cb" style="left:529.3px;top:152.7px;width:5.7px;height:93.8px;background:linear-gradient(to bottom,#2a1008 0%,#a01010 2%,#d01818 10%,#e03018 18%,#f07010 24%,#f0a010 30%,#f0d010 35%,#d0e020 40%,#60e070 46%,#30d0b0 52%,#30d0d0 60%,#30c0f0 70%,#2080f0 78%,#1820f0 86%,#1010c0 94%,#0a0a70 100%);border:0.5px solid #333"></div>
<div class="tk ty" style="right:126.7px;top:159.97px">50</div>
<div class="tk ty" style="right:126.7px;top:169.74px">100</div>
<div class="tk ty" style="right:126.7px;top:179.51px">150</div>
<div class="tk ty" style="right:126.7px;top:189.28px">200</div>
<div class="tk ty" style="right:126.7px;top:199.05px">250</div>
<div class="tk ty" style="right:126.7px;top:208.82px">300</div>
<div class="tk ty" style="right:126.7px;top:218.6px">350</div>
<div class="tk ty" style="right:126.7px;top:228.37px">400</div>
<div class="tk ty" style="right:126.7px;top:238.14px">450</div>
<div class="tk tx" style="left:431.3px;top:248.1px">100</div>
<div class="tk tx" style="left:447px;top:248.1px">200</div>
<div class="tk tx" style="left:462.7px;top:248.1px">300</div>
<div class="tk tx" style="left:478.4px;top:248.1px">400</div>
<div class="tk tx" style="left:494.1px;top:248.1px">500</div>
<div class="tk tx" style="left:509.8px;top:248.1px">600</div>
<div class="tk tc" style="left:536.5px;top:150.3px">1.5</div>
<div class="tk tc" style="left:536.5px;top:172.8px">1</div>
<div class="tk tc" style="left:536.5px;top:195.3px">0.5</div>
<div class="tk tc" style="left:536.5px;top:217.8px">0</div>
<div class="tk tc" style="left:536.5px;top:240.3px">-0.5</div>
<svg class="p" style="left:12.4px;top:282px" width="102.3" height="93.8" viewBox="0 0 102.3 93.8"><rect x="0" y="0" width="102.3" height="93.8" fill="#4c84a8" filter="url(#nz)"/><rect x="0" y="0" width="11.1" height="38" fill="#d48c34" filter="url(#nz)"/><rect x="0" y="38" width="11.1" height="7" fill="#aab040" filter="url(#nz)"/><rect x="9.1" y="60" width="2" height="34" fill="#80c040" filter="url(#nz3)"/><rect x="0" y="0" width="1.6" height="93.8" fill="#8a8a30" /><rect x="91" y="0" width="8.8" height="93.8" fill="#4aa0a0" filter="url(#nz)"/><rect x="99.8" y="0" width="2.5" height="93.8" fill="#8a7ab0" filter="url(#nz2)"/><rect x="11.1" y="4.8" width="79.9" height="81.4" fill="#f47a1c" filter="url(#nz3)"/><rect x="52.9" y="4.8" width="30.6" height="81.4" fill="#f0621a" filter="url(#nz3)"/><rect x="83.5" y="4.8" width="7.5" height="81.4" fill="#f28420" filter="url(#nz3)"/><rect x="49.1" y="4.8" width="3.8" height="81.4" fill="#f69a1c" filter="url(#nz3)"/><rect x="50" y="4.8" width="1" height="81.4" fill="#f8c030" /><rect x="11.1" y="72" width="79.9" height="14.2" fill="url(#ge1)" /><rect x="0" y="0" width="102.3" height="4.8" fill="#c4a83a" filter="url(#nz)"/><rect x="22" y="22.8" width="19" height="3" fill="#f8d030" /><rect x="51.6" y="22.8" width="39.4" height="3" fill="#f8d030" /><rect x="26.7" y="43.9" width="10.2" height="2.6" fill="#f8d030" /><rect x="55.6" y="43.9" width="31.3" height="2.6" fill="#f8d030" /><rect x="58.6" y="64.8" width="24.9" height="2.6" fill="#f8d030" /><rect x="30.4" y="64.8" width="2.4" height="2.4" fill="#f8d030" /><rect x="11.1" y="86.2" width="79.9" height="3.8" fill="#7c2a12" filter="url(#nz2)"/><rect x="11.1" y="90" width="79.9" height="3.8" fill="#9a8a50" filter="url(#nz2)"/><rect x="27" y="76.5" width="9.8" height="6" fill="#d09040" filter="url(#nz3)"/><rect x="68.2" y="76.5" width="10.6" height="6" fill="#d09040" filter="url(#nz3)"/><rect x="27.5" y="80.5" width="8.8" height="13.3" fill="#40a0a0" filter="url(#nz2)"/><rect x="68.7" y="80.5" width="9.6" height="13.3" fill="#40a0a0" filter="url(#nz2)"/><rect x="29" y="82" width="5.8" height="11.8" fill="#1c3cc8" filter="url(#nz3)"/><rect x="70.2" y="82" width="6.6" height="11.8" fill="#1c3cc8" filter="url(#nz3)"/><rect x="0.25" y="0.25" width="101.8" height="93.3" fill="none" stroke="#444" stroke-width="0.5" opacity="0.6"/></svg>
<div class="cb" style="left:117.4px;top:282px;width:5.7px;height:93.8px;background:linear-gradient(to bottom,#1a0a04 0%,#4a1a0c 2%,#6a2412 8%,#7a3812 15%,#806018 20%,#a07c14 27%,#f09010 30%,#e0c818 34%,#b0e020 39%,#70d838 45%,#30d060 50%,#40b8a0 57%,#70a0d0 62%,#8080e0 66%,#5050e0 72%,#2020e0 80%,#1010c0 88%,#0a0a90 94%,#0a0a60 100%);border:0.5px solid #333"></div>
<div class="tk ty" style="right:538.6px;top:289.27px">50</div>
<div class="tk ty" style="right:538.6px;top:299.04px">100</div>
<div class="tk ty" style="right:538.6px;top:308.81px">150</div>
<div class="tk ty" style="right:538.6px;top:318.58px">200</div>
<div class="tk ty" style="right:538.6px;top:328.35px">250</div>
<div class="tk ty" style="right:538.6px;top:338.12px">300</div>
<div class="tk ty" style="right:538.6px;top:347.9px">350</div>
<div class="tk ty" style="right:538.6px;top:357.67px">400</div>
<div class="tk ty" style="right:538.6px;top:367.44px">450</div>
<div class="tk tx" style="left:19.4px;top:377.4px">100</div>
<div class="tk tx" style="left:35.1px;top:377.4px">200</div>
<div class="tk tx" style="left:50.8px;top:377.4px">300</div>
<div class="tk tx" style="left:66.5px;top:377.4px">400</div>
<div class="tk tx" style="left:82.2px;top:377.4px">500</div>
<div class="tk tx" style="left:97.9px;top:377.4px">600</div>
<div class="tk tc" style="left:124.6px;top:280.3px">0.9</div>
<div class="tk tc" style="left:124.6px;top:294.2px">1</div>
<div class="tk tc" style="left:124.6px;top:308.1px">1.1</div>
<div class="tk tc" style="left:124.6px;top:322px">1.2</div>
<div class="tk tc" style="left:124.6px;top:335.9px">1.3</div>
<div class="tk tc" style="left:124.6px;top:349.8px">1.4</div>
<div class="tk tc" style="left:124.6px;top:363.7px">1.5</div>
<svg class="p" style="left:147px;top:282px" width="102.3" height="93.8" viewBox="0 0 102.3 93.8"><rect x="0" y="0" width="102.3" height="93.8" fill="#a09060" filter="url(#nz2)"/><rect x="0" y="0" width="5" height="93.8" fill="#a08040" filter="url(#nz2)"/><rect x="5" y="0" width="7.3" height="93.8" fill="#dc7434" filter="url(#nz2)"/><rect x="0" y="60" width="12.3" height="18" fill="#90a050" filter="url(#nz2)"/><rect x="0" y="78" width="12.3" height="15.8" fill="#4888b0" filter="url(#nz)"/><rect x="91.4" y="0" width="1.6" height="93.8" fill="#e04880" /><rect x="100.8" y="0" width="1.5" height="93.8" fill="#d86090" filter="url(#nz2)"/><rect x="93" y="78" width="7.8" height="15.8" fill="#5080b0" filter="url(#nz)"/><rect x="12.3" y="5.5" width="79.1" height="80.5" fill="#f2440f" filter="url(#nz3)"/><rect x="85.3" y="5.5" width="6.1" height="80.5" fill="#f06c1c" filter="url(#nz3)"/><rect x="50.4" y="5.5" width="1.2" height="80.5" fill="#f89426" /><rect x="12.3" y="70" width="79.1" height="16" fill="url(#ge2)" /><rect x="0" y="0" width="102.3" height="5.5" fill="#c0a038" filter="url(#nz2)"/><rect x="22.4" y="23.2" width="17.6" height="2.2" fill="#f8b424" /><rect x="52" y="23.2" width="38" height="2.2" fill="#f8b424" /><rect x="27.2" y="44.2" width="9.5" height="2" fill="#f8b424" /><rect x="56" y="44.2" width="31.3" height="2" fill="#f8b424" /><rect x="59.2" y="65.5" width="24.3" height="2" fill="#f8b424" /><rect x="30.4" y="65.5" width="2" height="2" fill="#f8b424" /><rect x="12.3" y="86" width="79.1" height="7.8" fill="#b01c10" filter="url(#nz2)"/><rect x="28" y="78" width="9.8" height="5" fill="#c04020" filter="url(#nz3)"/><rect x="69" y="78" width="7.7" height="5" fill="#c04020" filter="url(#nz3)"/><rect x="28" y="83" width="9.8" height="10.8" fill="#40b060" filter="url(#nz2)"/><rect x="69" y="83" width="7.7" height="10.8" fill="#40b060" filter="url(#nz2)"/><rect x="30" y="85" width="5" height="8.8" fill="#3080d0" filter="url(#nz3)"/><rect x="70.5" y="85" width="4.7" height="8.8" fill="#3080d0" filter="url(#nz3)"/><rect x="0.25" y="0.25" width="101.8" height="93.3" fill="none" stroke="#444" stroke-width="0.5" opacity="0.6"/></svg>
<div class="cb" style="left:252px;top:282px;width:5.7px;height:93.8px;background:linear-gradient(to bottom,#201008 0%,#6a1c10 2%,#8a2814 9%,#a04018 16%,#c06818 22%,#e08c14 27%,#f0a810 31%,#e8d018 35%,#c0e020 40%,#60dc60 46%,#30d0a8 52%,#40c0d0 60%,#50a8e8 68%,#3070e8 76%,#2030e0 84%,#1010b8 92%,#0a0a68 100%);border:0.5px solid #333"></div>
<div class="tk ty" style="right:404px;top:289.27px">50</div>
<div class="tk ty" style="right:404px;top:299.04px">100</div>
<div class="tk ty" style="right:404px;top:308.81px">150</div>
<div class="tk ty" style="right:404px;top:318.58px">200</div>
<div class="tk ty" style="right:404px;top:328.35px">250</div>
<div class="tk ty" style="right:404px;top:338.12px">300</div>
<div class="tk ty" style="right:404px;top:347.9px">350</div>
<div class="tk ty" style="right:404px;top:357.67px">400</div>
<div class="tk ty" style="right:404px;top:367.44px">450</div>
<div class="tk tx" style="left:154px;top:377.4px">100</div>
<div class="tk tx" style="left:169.7px;top:377.4px">200</div>
<div class="tk tx" style="left:185.4px;top:377.4px">300</div>
<div class="tk tx" style="left:201.1px;top:377.4px">400</div>
<div class="tk tx" style="left:216.8px;top:377.4px">500</div>
<div class="tk tx" style="left:232.5px;top:377.4px">600</div>
<div class="tk tc" style="left:259.2px;top:280.3px">0.5</div>
<div class="tk tc" style="left:259.2px;top:292.3px">0.6</div>
<div class="tk tc" style="left:259.2px;top:304.3px">0.7</div>
<div class="tk tc" style="left:259.2px;top:316.3px">0.8</div>
<div class="tk tc" style="left:259.2px;top:328.3px">0.9</div>
<div class="tk tc" style="left:259.2px;top:340.3px">1</div>
<div class="tk tc" style="left:259.2px;top:352.3px">1.1</div>
<div class="tk tc" style="left:259.2px;top:364.3px">1.2</div>
<svg class="p" style="left:285.5px;top:282px" width="102.3" height="93.8" viewBox="0 0 102.3 93.8"><rect x="0" y="0" width="102.3" height="93.8" fill="#2c58c8" filter="url(#nz2)"/><rect x="0" y="0" width="10.4" height="93.8" fill="url(#gfl)" /><rect x="0" y="0" width="10.4" height="93.8" fill="#808080" filter="url(#nz3)" opacity="0.25"/><rect x="0" y="60" width="10.4" height="34" fill="#3058c8" filter="url(#nz2)" opacity="0.6"/><rect x="0" y="0" width="1.3" height="93.8" fill="#406a90" /><rect x="99" y="0" width="3.3" height="93.8" fill="#7a62b0" filter="url(#nz2)"/><rect x="1.3" y="40" width="9.1" height="45" fill="#fff" filter="url(#spk)" opacity="0.85"/><rect x="90.8" y="0" width="8.2" height="93.8" fill="#fff" filter="url(#spk)" opacity="0.85"/><rect x="10.4" y="3.4" width="80.4" height="83" fill="#3692f0" filter="url(#nz3)"/><rect x="51.5" y="3.4" width="39.3" height="83" fill="#2e9cf0" filter="url(#nz3)"/><rect x="10.4" y="3.4" width="1.1" height="83" fill="#1c4cc8" /><rect x="50.6" y="3.4" width="0.9" height="83" fill="#58b8f8" /><rect x="10.4" y="72" width="80.4" height="14.4" fill="url(#gf1)" /><rect x="0" y="0" width="102.3" height="3.4" fill="#2a58c8" filter="url(#nz2)"/><rect x="22.5" y="24.3" width="17.7" height="1.5" fill="#62c6f8" /><rect x="51.5" y="24.3" width="38.6" height="1.5" fill="#62c6f8" /><rect x="26.5" y="45.5" width="9.6" height="1.5" fill="#62c6f8" /><rect x="55.5" y="45.5" width="30.6" height="1.5" fill="#62c6f8" /><rect x="58.8" y="66.5" width="24.3" height="1.5" fill="#62c6f8" /><rect x="30.7" y="66.2" width="1.8" height="1.8" fill="#7ad0f8" /><rect x="10.4" y="86" width="80.4" height="4.8" fill="#c4e024" filter="url(#nz3)"/><rect x="13" y="87.5" width="10" height="1.2" fill="#4a5a20" /><rect x="40" y="87.5" width="7" height="1.2" fill="#4a5a20" /><rect x="60" y="87.5" width="6" height="1.2" fill="#4a5a20" /><rect x="10.4" y="90.8" width="80.4" height="3" fill="#38a0d8" filter="url(#nz2)"/><rect x="29.5" y="80" width="6.5" height="13.8" fill="#1a24a8" filter="url(#nz2)"/><rect x="70.5" y="80" width="6.5" height="13.8" fill="#1a24a8" filter="url(#nz2)"/><rect x="28.5" y="84" width="1.2" height="8" fill="#50a0e0" /><rect x="76.8" y="84" width="1.2" height="8" fill="#50a0e0" /><rect x="0.25" y="0.25" width="101.8" height="93.3" fill="none" stroke="#444" stroke-width="0.5" opacity="0.6"/></svg>
<div class="cb" style="left:390.5px;top:282px;width:5.7px;height:93.8px;background:linear-gradient(to bottom,#1a0a04 0%,#4a1a0c 2%,#6a2412 8%,#7a3812 15%,#806018 20%,#a07c14 27%,#f09010 30%,#e0c818 34%,#b0e020 39%,#70d838 45%,#30d060 50%,#40b8a0 57%,#70a0d0 62%,#8080e0 66%,#5050e0 72%,#2020e0 80%,#1010c0 88%,#0a0a90 94%,#0a0a60 100%);border:0.5px solid #333"></div>
<div class="tk ty" style="right:265.5px;top:289.27px">50</div>
<div class="tk ty" style="right:265.5px;top:299.04px">100</div>
<div class="tk ty" style="right:265.5px;top:308.81px">150</div>
<div class="tk ty" style="right:265.5px;top:318.58px">200</div>
<div class="tk ty" style="right:265.5px;top:328.35px">250</div>
<div class="tk ty" style="right:265.5px;top:338.12px">300</div>
<div class="tk ty" style="right:265.5px;top:347.9px">350</div>
<div class="tk ty" style="right:265.5px;top:357.67px">400</div>
<div class="tk ty" style="right:265.5px;top:367.44px">450</div>
<div class="tk tx" style="left:292.5px;top:377.4px">100</div>
<div class="tk tx" style="left:308.2px;top:377.4px">200</div>
<div class="tk tx" style="left:323.9px;top:377.4px">300</div>
<div class="tk tx" style="left:339.6px;top:377.4px">400</div>
<div class="tk tx" style="left:355.3px;top:377.4px">500</div>
<div class="tk tx" style="left:371px;top:377.4px">600</div>
<div class="tk tc" style="left:397.7px;top:280.3px">0.6</div>
<div class="tk tc" style="left:397.7px;top:289.9px">0.7</div>
<div class="tk tc" style="left:397.7px;top:299.5px">0.8</div>
<div class="tk tc" style="left:397.7px;top:309.1px">0.9</div>
<div class="tk tc" style="left:397.7px;top:318.7px">1</div>
<div class="tk tc" style="left:397.7px;top:328.3px">1.1</div>
<div class="tk tc" style="left:397.7px;top:337.9px">1.2</div>
<div class="tk tc" style="left:397.7px;top:347.5px">1.3</div>
<div class="tk tc" style="left:397.7px;top:357.1px">1.4</div>
<div class="tk tc" style="left:397.7px;top:366.7px">1.5</div>
<svg class="p" style="left:424.3px;top:282px" width="102.3" height="93.8" viewBox="0 0 102.3 93.8"><rect x="0" y="0" width="102.3" height="93.8" fill="#d41a16" filter="url(#nz3)"/><rect x="7" y="0" width="1.6" height="93.8" fill="#a81410" /><rect x="93" y="0" width="1.5" height="93.8" fill="#a81410" /><rect x="97.5" y="0" width="1.2" height="93.8" fill="#b01410" /><rect x="8.6" y="2.5" width="4.7" height="75" fill="#f09022" filter="url(#nz3)"/><rect x="13.3" y="2.5" width="75" height="75" fill="#f8aa1a" filter="url(#nz3)"/><rect x="88.3" y="2.5" width="2.8" height="75" fill="#f06422" filter="url(#nz3)"/><rect x="51.3" y="2.5" width="0.9" height="75" fill="#c87012" /><rect x="8.6" y="60" width="82.5" height="18" fill="url(#gf)" /><rect x="0" y="0" width="102.3" height="2.5" fill="#a82414" filter="url(#nz2)"/><rect x="12" y="0.8" width="24" height="2.2" fill="#b09030" filter="url(#nz2)"/><rect x="40" y="0.8" width="48" height="2.2" fill="#c0b040" filter="url(#nz2)"/><rect x="23.5" y="23.2" width="16.2" height="1.2" fill="#fcc436" /><rect x="52.7" y="23.2" width="36" height="1.2" fill="#fcc436" /><rect x="27" y="44.6" width="10" height="1.2" fill="#fcc436" /><rect x="56" y="44.6" width="31" height="1.2" fill="#fcc436" /><rect x="59" y="65.5" width="25" height="1.2" fill="#fcc436" /><rect x="31" y="65.3" width="1.2" height="1.2" fill="#c07010" /><rect x="8.6" y="77.5" width="82.5" height="14.5" fill="#e4281a" filter="url(#nz3)"/><rect x="8.6" y="86" width="82.5" height="6" fill="#c81a14" filter="url(#nz3)"/><rect x="8.6" y="92" width="82.5" height="1.8" fill="#d8a030" /><rect x="0" y="58" width="8.6" height="35.8" fill="url(#gfs)" /><rect x="91.1" y="58" width="11.2" height="35.8" fill="url(#gfs)" /><rect x="0" y="70" width="8.6" height="23.8" fill="#808080" filter="url(#nz2)" opacity="0.35"/><rect x="91.1" y="70" width="11.2" height="23.8" fill="#808080" filter="url(#nz2)" opacity="0.35"/><rect x="29" y="78" width="7.5" height="14" fill="#c8c848" filter="url(#nz2)"/><rect x="70" y="78" width="8" height="14" fill="#c8c848" filter="url(#nz2)"/><rect x="30" y="78" width="5" height="5" fill="#e88878" filter="url(#nz3)"/><rect x="71.5" y="78" width="5" height="5" fill="#e88878" filter="url(#nz3)"/><rect x="0.25" y="0.25" width="101.8" height="93.3" fill="none" stroke="#444" stroke-width="0.5" opacity="0.6"/></svg>
<div class="cb" style="left:529.3px;top:282px;width:5.7px;height:93.8px;background:linear-gradient(to bottom,#2a1008 0%,#a01010 2%,#d01818 10%,#e03018 18%,#f07010 24%,#f0a010 30%,#f0d010 35%,#d0e020 40%,#60e070 46%,#30d0b0 52%,#30d0d0 60%,#30c0f0 70%,#2080f0 78%,#1820f0 86%,#1010c0 94%,#0a0a70 100%);border:0.5px solid #333"></div>
<div class="tk ty" style="right:126.7px;top:289.27px">50</div>
<div class="tk ty" style="right:126.7px;top:299.04px">100</div>
<div class="tk ty" style="right:126.7px;top:308.81px">150</div>
<div class="tk ty" style="right:126.7px;top:318.58px">200</div>
<div class="tk ty" style="right:126.7px;top:328.35px">250</div>
<div class="tk ty" style="right:126.7px;top:338.12px">300</div>
<div class="tk ty" style="right:126.7px;top:347.9px">350</div>
<div class="tk ty" style="right:126.7px;top:357.67px">400</div>
<div class="tk ty" style="right:126.7px;top:367.44px">450</div>
<div class="tk tx" style="left:431.3px;top:377.4px">100</div>
<div class="tk tx" style="left:447px;top:377.4px">200</div>
<div class="tk tx" style="left:462.7px;top:377.4px">300</div>
<div class="tk tx" style="left:478.4px;top:377.4px">400</div>
<div class="tk tx" style="left:494.1px;top:377.4px">500</div>
<div class="tk tx" style="left:509.8px;top:377.4px">600</div>
<div class="tk tc" style="left:536.5px;top:280.3px">0.7</div>
<div class="tk tc" style="left:536.5px;top:291px">0.8</div>
<div class="tk tc" style="left:536.5px;top:301.7px">0.9</div>
<div class="tk tc" style="left:536.5px;top:312.4px">1</div>
<div class="tk tc" style="left:536.5px;top:323.1px">1.1</div>
<div class="tk tc" style="left:536.5px;top:333.8px">1.2</div>
<div class="tk tc" style="left:536.5px;top:344.5px">1.3</div>
<div class="tk tc" style="left:536.5px;top:355.2px">1.4</div>
<div class="tk tc" style="left:536.5px;top:365.9px">1.5</div>
</body></html>
